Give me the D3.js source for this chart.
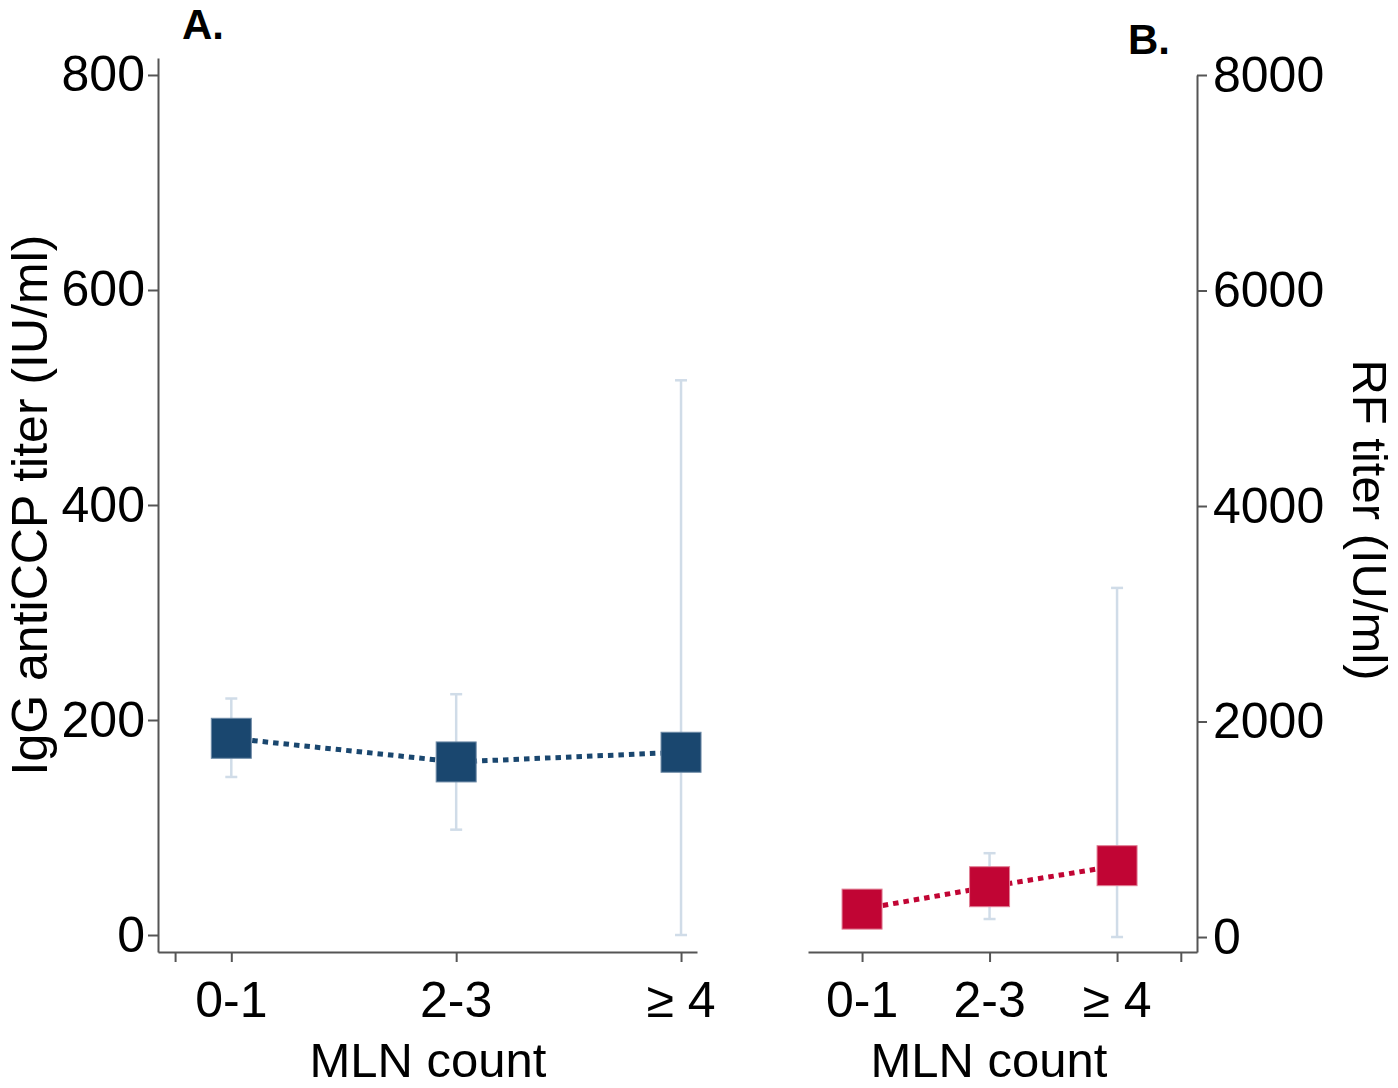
<!DOCTYPE html>
<html>
<head>
<meta charset="utf-8">
<script src="https://cdn.jsdelivr.net/npm/d3@7"></script>
<style>
  body { margin: 0; background: #fff; }
  svg text { font-family: "Liberation Sans", Arial, sans-serif; fill: #000; }
  .axis path, .axis line { stroke: #555; stroke-width: 2; }
</style>
</head>
<body>
<svg id="chart" width="1398" height="1088"></svg>
<script>
// categories (x positions 1..3)
const categories = ['0-1', '2-3', '\u2265 4'];
const catPos = [1, 2, 3];

// panel A: IgG antiCCP titer
const ccpMean = [183, 161, 170];
const ccpLow = [147, 98, 0];
const ccpHigh = [220, 224, 516];

// panel B: RF titer
const rfMean = [259, 467, 662];
const rfLow = [200, 167, 0];
const rfHigh = [320, 778, 3240];

const ccpTicks = [0, 200, 400, 600, 800];
const rfTicks = [0, 2000, 4000, 6000, 8000];

const svg = d3.select('#chart');
const errColor = '#d0dce8';

function drawPanel(opts) {
    const x = d3.scaleLinear().domain(opts.xDomain).range(opts.xRange);
    const y = d3.scaleLinear().domain(opts.yDomain).range(opts.yRange);

    // x axis
    const xAxis = d3.axisBottom(x)
        .tickValues(opts.xTicks)
        .tickSize(10)
        .tickSizeOuter(0)
        .tickFormat(() => '');
    svg.append('g')
        .attr('class', 'axis')
        .attr('transform', `translate(0,${opts.yRange[0]})`)
        .call(xAxis);

    // category labels
    svg.append('g').selectAll('text')
        .data(catPos)
        .enter()
        .append('text')
        .attr('x', d => x(d))
        .attr('y', 1017)
        .attr('text-anchor', 'middle')
        .attr('font-size', 50)
        .text((d, i) => categories[i]);

    svg.append('text')
        .attr('x', opts.xTitleX)
        .attr('y', 1077)
        .attr('text-anchor', 'middle')
        .attr('font-size', 49)
        .text('MLN count');

    // y axis
    const yAxis = (opts.side === 'left' ? d3.axisLeft(y) : d3.axisRight(y))
        .tickValues(opts.yTicks)
        .tickSize(10)
        .tickSizeOuter(0)
        .tickPadding(opts.side === 'left' ? 3 : 6)
        .tickFormat(d3.format('d'));
    const ga = svg.append('g')
        .attr('class', 'axis')
        .attr('transform', `translate(${opts.side === 'left' ? opts.xRange[0] : opts.xRange[1]},0)`)
        .call(yAxis);
    ga.selectAll('.tick text')
        .attr('font-size', 50)
        .attr('fill', '#000')
        .attr('font-family', '"Liberation Sans", Arial, sans-serif');

    // error bars
    const eb = svg.append('g');
    catPos.forEach((c, i) => {
        const cx = x(c);
        eb.append('line')
            .attr('x1', cx).attr('x2', cx)
            .attr('y1', y(opts.low[i])).attr('y2', y(opts.high[i]))
            .attr('stroke', errColor).attr('stroke-width', 2.5);
        [opts.low[i], opts.high[i]].forEach(v => {
            eb.append('line')
                .attr('x1', cx - 6).attr('x2', cx + 6)
                .attr('y1', y(v)).attr('y2', y(v))
                .attr('stroke', errColor).attr('stroke-width', 2.5);
        });
    });

    // dotted connecting line
    const line = d3.line().x((d, i) => x(catPos[i])).y(d => y(d));
    svg.append('path')
        .datum(opts.mean)
        .attr('d', line)
        .attr('fill', 'none')
        .attr('stroke', opts.color)
        .attr('stroke-width', 5)
        .attr('stroke-dasharray', '5.5,5');

    // square markers
    const s = 40;
    svg.append('g').selectAll('rect')
        .data(opts.mean)
        .enter()
        .append('rect')
        .attr('x', (d, i) => x(catPos[i]) - s / 2)
        .attr('y', d => y(d) - s / 2)
        .attr('width', s)
        .attr('height', s)
        .attr('fill', opts.color)
        .attr('stroke', opts.edge)
        .attr('stroke-width', 1);
}

drawPanel({
    side: 'left',
    xDomain: [0.674, 3.071], xRange: [158, 697],
    xTicks: [0.75, 1, 2, 3],
    yDomain: [-15.8, 815.8], yRange: [952, 58],
    yTicks: ccpTicks,
    mean: ccpMean, low: ccpLow, high: ccpHigh,
    color: '#1a476f', edge: '#6d8aa6',
    xTitleX: 428
});

drawPanel({
    side: 'right',
    xDomain: [0.576, 3.627], xRange: [808, 1197],
    xTicks: [1, 2, 3, 3.5],
    yDomain: [-139, 8000], yRange: [952, 75],
    yTicks: rfTicks,
    mean: rfMean, low: rfLow, high: rfHigh,
    color: '#c10534', edge: '#e07f95',
    xTitleX: 989
});

// axis titles
svg.append('text')
    .attr('transform', 'translate(47,505) rotate(-90)')
    .attr('text-anchor', 'middle')
    .attr('font-size', 50)
    .text('IgG antiCCP titer (IU/ml)');

svg.append('text')
    .attr('transform', 'translate(1353,520) rotate(90)')
    .attr('text-anchor', 'middle')
    .attr('font-size', 49)
    .text('RF titer (IU/ml)');

// panel letters
svg.append('text')
    .attr('x', 182).attr('y', 39)
    .attr('font-size', 42).attr('font-weight', 'bold')
    .text('A.');
svg.append('text')
    .attr('x', 1128).attr('y', 54)
    .attr('font-size', 42).attr('font-weight', 'bold')
    .text('B.');
</script>
</body>
</html>
